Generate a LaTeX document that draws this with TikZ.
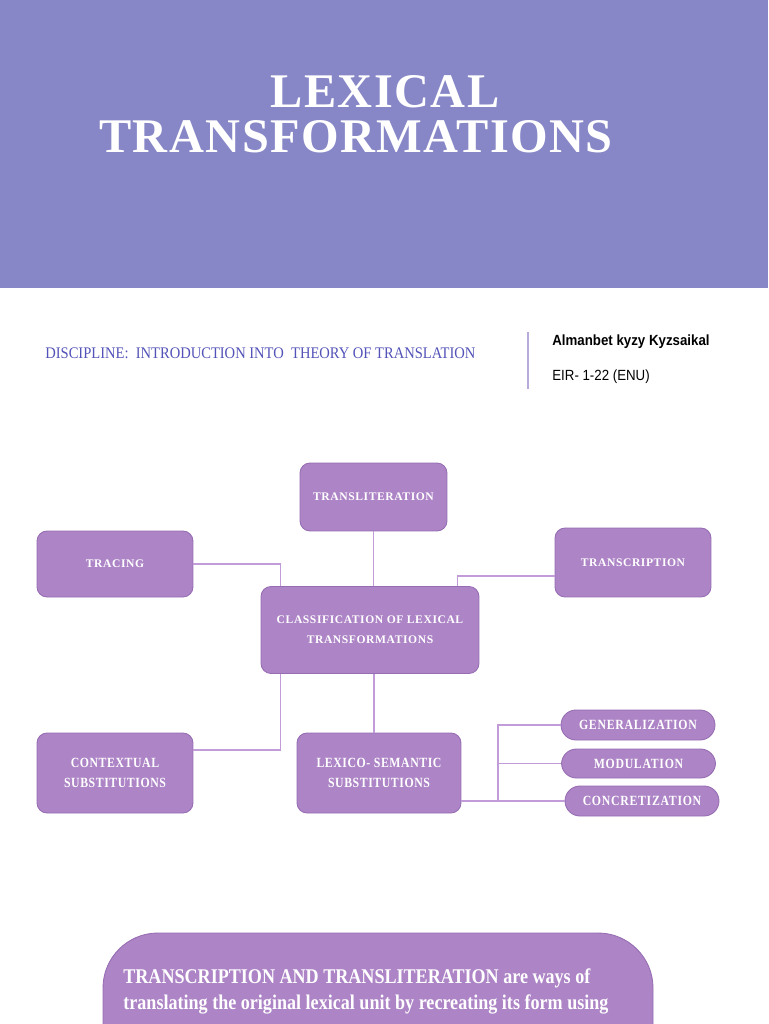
\documentclass[tikz,border=0pt]{standalone}
\usepackage{fontspec}
\setmainfont{Liberation Serif}
\usetikzlibrary{calc}
\newfontfamily\titlefont[LetterSpace=3]{Liberation Serif}
\newfontfamily\boxfont[LetterSpace=5]{Liberation Serif}
\newfontfamily\narrowfont[FakeStretch=0.84]{Liberation Serif}
\newfontfamily\discfont[FakeStretch=0.9]{Liberation Serif}
\newfontfamily\notefont[FakeStretch=0.865]{Liberation Serif}
\newfontfamily\authorfont[FakeStretch=0.9]{Liberation Sans}
\definecolor{LexHead}{HTML}{8787C8}
\definecolor{LexFill}{HTML}{AD84C6}
\definecolor{LexEdge}{HTML}{966DB2}
\definecolor{LexLink}{HTML}{C29BD9}
\definecolor{LexBlue}{HTML}{5252B8}
\definecolor{LexRule}{HTML}{B9AADC}

\begin{document}
\begin{tikzpicture}[x=0.02cm,y=-0.02cm, every node/.style={inner sep=0pt}]
    \tikzset{box/.style={rounded corners=0.2cm,fill=LexFill,draw=LexEdge,line width=0.5pt,
      text=white,align=center,font=\boxfont\bfseries\fontsize{6.6}{11.3}\selectfont},
      pill/.style={box,rounded corners=0.3cm,minimum width=3.08cm,minimum height=0.6cm,
      font=\narrowfont\bfseries\addfontfeature{LetterSpace=5}\fontsize{8}{9}\selectfont},
      link/.style={draw=LexLink,line width=0.7pt}}
    \useasboundingbox (0,0) rectangle (768,1024);
    % header band
    \fill[LexHead] (0,0) rectangle (768,288);
    \node[text=white,font=\titlefont\bfseries\fontsize{27.5}{30}\selectfont] (t1) at (385,92) {LEXICAL};
    \node[text=white,font=\titlefont\bfseries\fontsize{27.5}{30}\selectfont] (t2) at (356,137) {TRANSFORMATIONS};
    % discipline and author
    \node[anchor=west,text=LexBlue,font=\discfont\fontsize{9.2}{10}\selectfont] (disc) at (45,353)
      {DISCIPLINE:\ \ INTRODUCTION INTO\ \ THEORY OF TRANSLATION};
    \draw[LexRule,line width=0.8pt] (528,332) -- (528,389);
    \node[anchor=west,font=\authorfont\bfseries\fontsize{8.4}{9}\selectfont] (auth) at (552,342) {Almanbet kyzy Kyzsaikal};
    \node[anchor=west,font=\authorfont\fontsize{8.4}{9}\selectfont] (grp) at (552,377) {EIR- 1-22 (ENU)};
    % boxes
    \node[box,minimum width=2.94cm,minimum height=1.36cm] (translit) at (373.5,497) {TRANSLITERATION};
    \node[box,minimum width=3.12cm,minimum height=1.32cm] (tracing) at (115,564) {TRACING};
    \node[box,minimum width=3.12cm,minimum height=1.38cm] (transcr) at (633,562.5) {TRANSCRIPTION};
    \node[box,minimum width=4.36cm,minimum height=1.74cm] (classif) at (370,630)
      {CLASSIFICATION OF LEXICAL\\TRANSFORMATIONS};
    \node[box,minimum width=3.12cm,minimum height=1.6cm,
      font=\narrowfont\bfseries\addfontfeature{LetterSpace=4}\fontsize{8}{11.4}\selectfont] (context) at (115,773)
      {CONTEXTUAL\\SUBSTITUTIONS};
    \node[box,minimum width=3.28cm,minimum height=1.6cm,
      font=\narrowfont\bfseries\addfontfeature{LetterSpace=4}\fontsize{8}{11.4}\selectfont] (lexico) at (379,773)
      {LEXICO- SEMANTIC\\SUBSTITUTIONS};
    \node[pill] (general) at (638,725) {GENERALIZATION};
    \node[pill,minimum height=0.58cm] (modul) at (638.5,763.5) {MODULATION};
    \node[pill] (concr) at (642,801) {CONCRETIZATION};
    % connectors
    \draw[link] (tracing.east) -| ($(classif.north west)+(20,0)$);
    \draw[link] (translit.south) -- (translit.south |- classif.north);
    \draw[link] ($(transcr.west)+(0,13.5)$) -| ($(classif.north east)+(-22,0)$);
    \draw[link] ($(classif.south west)+(20,0)$) |- ($(context.east)+(0,-23)$);
    \draw[link] ($(classif.south)+(4,0)$) coordinate (drop) -- (drop |- lexico.north);
    \coordinate (bus) at (498,801);
    \draw[link] ($(lexico.east)+(0,28)$) -- (bus) |- (general.west);
    \foreach \b in {modul,concr}{\draw[link] (bus |- \b.west) -- (\b.west);}
    % note at the bottom
    \draw[fill=LexFill,draw=LexEdge,line width=0.5pt,rounded corners=1.1cm]
      (103,1090) -- (103,933) -- (653,933) -- (653,1090);
    \node[anchor=north west,text=white,align=left,
      font=\notefont\bfseries\fontsize{11.9}{14.8}\selectfont] (note) at (123,968)
      {TRANSCRIPTION AND TRANSLITERATION are ways of\\
       translating the original lexical unit by recreating its form using};
\end{tikzpicture}
\end{document}
